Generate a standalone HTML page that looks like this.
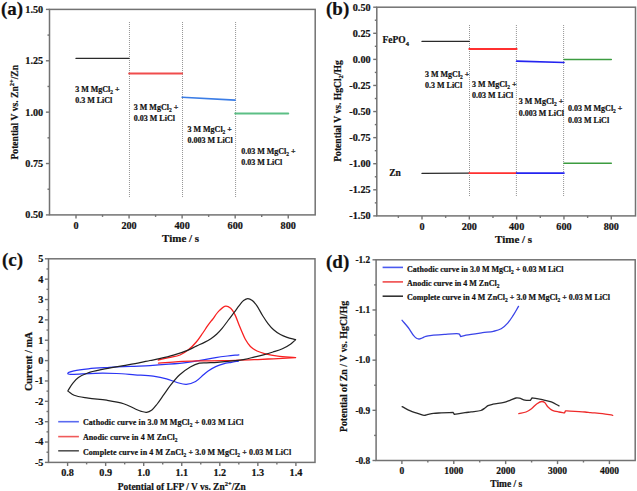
<!DOCTYPE html>
<html><head><meta charset="utf-8"><style>
html,body{margin:0;padding:0;background:#fff;width:637px;height:491px;overflow:hidden}
svg{display:block}
text{stroke:#111;stroke-width:0.2px}
</style></head><body>
<svg width="637" height="491" viewBox="0 0 637 491" font-family="Liberation Serif" font-weight="bold" fill="#111">
<rect width="637" height="491" fill="#fff"/>
<rect x="49.50" y="9.40" width="265.70" height="205.50" fill="none" stroke="#727272" stroke-width="1.5"/>
<line x1="76.00" y1="214.90" x2="76.00" y2="218.50" stroke="#727272" stroke-width="1.4" />
<text x="76.00" y="229.30" font-size="10.2" text-anchor="middle" >0</text>
<line x1="129.06" y1="214.90" x2="129.06" y2="218.50" stroke="#727272" stroke-width="1.4" />
<text x="129.06" y="229.30" font-size="10.2" text-anchor="middle" >200</text>
<line x1="182.12" y1="214.90" x2="182.12" y2="218.50" stroke="#727272" stroke-width="1.4" />
<text x="182.12" y="229.30" font-size="10.2" text-anchor="middle" >400</text>
<line x1="235.18" y1="214.90" x2="235.18" y2="218.50" stroke="#727272" stroke-width="1.4" />
<text x="235.18" y="229.30" font-size="10.2" text-anchor="middle" >600</text>
<line x1="288.24" y1="214.90" x2="288.24" y2="218.50" stroke="#727272" stroke-width="1.4" />
<text x="288.24" y="229.30" font-size="10.2" text-anchor="middle" >800</text>
<line x1="102.53" y1="214.90" x2="102.53" y2="216.90" stroke="#727272" stroke-width="1.4" />
<line x1="155.59" y1="214.90" x2="155.59" y2="216.90" stroke="#727272" stroke-width="1.4" />
<line x1="208.65" y1="214.90" x2="208.65" y2="216.90" stroke="#727272" stroke-width="1.4" />
<line x1="261.71" y1="214.90" x2="261.71" y2="216.90" stroke="#727272" stroke-width="1.4" />
<line x1="49.50" y1="214.90" x2="45.90" y2="214.90" stroke="#727272" stroke-width="1.4" />
<text x="43.20" y="218.30" font-size="10.2" text-anchor="end" >0.50</text>
<line x1="49.50" y1="163.53" x2="45.90" y2="163.53" stroke="#727272" stroke-width="1.4" />
<text x="43.20" y="166.93" font-size="10.2" text-anchor="end" >0.75</text>
<line x1="49.50" y1="112.15" x2="45.90" y2="112.15" stroke="#727272" stroke-width="1.4" />
<text x="43.20" y="115.55" font-size="10.2" text-anchor="end" >1.00</text>
<line x1="49.50" y1="60.78" x2="45.90" y2="60.78" stroke="#727272" stroke-width="1.4" />
<text x="43.20" y="64.18" font-size="10.2" text-anchor="end" >1.25</text>
<line x1="49.50" y1="9.40" x2="45.90" y2="9.40" stroke="#727272" stroke-width="1.4" />
<text x="43.20" y="12.80" font-size="10.2" text-anchor="end" >1.50</text>
<line x1="49.50" y1="189.21" x2="47.50" y2="189.21" stroke="#727272" stroke-width="1.4" />
<line x1="49.50" y1="137.84" x2="47.50" y2="137.84" stroke="#727272" stroke-width="1.4" />
<line x1="49.50" y1="86.46" x2="47.50" y2="86.46" stroke="#727272" stroke-width="1.4" />
<line x1="49.50" y1="35.09" x2="47.50" y2="35.09" stroke="#727272" stroke-width="1.4" />
<text x="180.60" y="242.00" font-size="11" text-anchor="middle" >Time / s</text>
<text transform="translate(18.3,112.2) rotate(-90)" font-size="9.6" text-anchor="middle">Potential V vs. Zn<tspan font-size="6.5" dy="-4">2+</tspan><tspan dy="4">/Zn</tspan></text>
<text x="1.00" y="14.50" font-size="19" text-anchor="start" >(a)</text>
<line x1="129.46" y1="22.00" x2="129.46" y2="197.70" stroke="#7a7a7a" stroke-width="0.8" stroke-dasharray="1,1"/>
<line x1="182.52" y1="22.00" x2="182.52" y2="197.70" stroke="#7a7a7a" stroke-width="0.8" stroke-dasharray="1,1"/>
<line x1="235.58" y1="22.00" x2="235.58" y2="197.70" stroke="#7a7a7a" stroke-width="0.8" stroke-dasharray="1,1"/>
<path d="M76.00,58.40 L129.06,58.40" fill="none" stroke="#2a2a2a" stroke-width="1.3" stroke-linejoin="round" stroke-linecap="round" />
<path d="M129.06,73.50 L182.12,73.50" fill="none" stroke="#f04c4c" stroke-width="1.8" stroke-linejoin="round" stroke-linecap="round" />
<path d="M182.12,97.30 L235.18,100.10" fill="none" stroke="#3b7de6" stroke-width="1.6" stroke-linejoin="round" stroke-linecap="round" />
<path d="M235.18,113.60 L288.24,113.60" fill="none" stroke="#5cbf85" stroke-width="2.0" stroke-linejoin="round" stroke-linecap="round" />
<text x="75.20" y="91.80" font-size="8">3 M MgCl<tspan font-size="5.5" dy="2">2</tspan><tspan dy="-2"> +</tspan></text>
<text x="75.20" y="102.80" font-size="8">0.3 M LiCl</text>
<text x="133.80" y="109.80" font-size="8">3 M MgCl<tspan font-size="5.5" dy="2">2</tspan><tspan dy="-2"> +</tspan></text>
<text x="133.80" y="120.80" font-size="8">0.03 M LiCl</text>
<text x="187.50" y="131.80" font-size="8">3 M MgCl<tspan font-size="5.5" dy="2">2</tspan><tspan dy="-2"> +</tspan></text>
<text x="187.50" y="142.80" font-size="8">0.003 M LiCl</text>
<text x="241.20" y="153.80" font-size="8">0.03 M MgCl<tspan font-size="5.5" dy="2">2</tspan><tspan dy="-2"> +</tspan></text>
<text x="241.20" y="165.40" font-size="8">0.03 M LiCl</text>
<rect x="376.80" y="7.20" width="258.70" height="208.70" fill="none" stroke="#727272" stroke-width="1.5"/>
<line x1="422.00" y1="215.90" x2="422.00" y2="219.50" stroke="#727272" stroke-width="1.4" />
<text x="422.00" y="229.60" font-size="10.2" text-anchor="middle" >0</text>
<line x1="469.32" y1="215.90" x2="469.32" y2="219.50" stroke="#727272" stroke-width="1.4" />
<text x="469.32" y="229.60" font-size="10.2" text-anchor="middle" >200</text>
<line x1="516.64" y1="215.90" x2="516.64" y2="219.50" stroke="#727272" stroke-width="1.4" />
<text x="516.64" y="229.60" font-size="10.2" text-anchor="middle" >400</text>
<line x1="563.96" y1="215.90" x2="563.96" y2="219.50" stroke="#727272" stroke-width="1.4" />
<text x="563.96" y="229.60" font-size="10.2" text-anchor="middle" >600</text>
<line x1="611.28" y1="215.90" x2="611.28" y2="219.50" stroke="#727272" stroke-width="1.4" />
<text x="611.28" y="229.60" font-size="10.2" text-anchor="middle" >800</text>
<line x1="398.34" y1="215.90" x2="398.34" y2="217.90" stroke="#727272" stroke-width="1.4" />
<line x1="445.66" y1="215.90" x2="445.66" y2="217.90" stroke="#727272" stroke-width="1.4" />
<line x1="492.98" y1="215.90" x2="492.98" y2="217.90" stroke="#727272" stroke-width="1.4" />
<line x1="540.30" y1="215.90" x2="540.30" y2="217.90" stroke="#727272" stroke-width="1.4" />
<line x1="587.62" y1="215.90" x2="587.62" y2="217.90" stroke="#727272" stroke-width="1.4" />
<line x1="376.80" y1="7.20" x2="373.20" y2="7.20" stroke="#727272" stroke-width="1.4" />
<text x="370.60" y="10.60" font-size="10.2" text-anchor="end" >0.50</text>
<line x1="376.80" y1="33.29" x2="373.20" y2="33.29" stroke="#727272" stroke-width="1.4" />
<text x="370.60" y="36.69" font-size="10.2" text-anchor="end" >0.25</text>
<line x1="376.80" y1="59.38" x2="373.20" y2="59.38" stroke="#727272" stroke-width="1.4" />
<text x="370.60" y="62.77" font-size="10.2" text-anchor="end" >0.00</text>
<line x1="376.80" y1="85.46" x2="373.20" y2="85.46" stroke="#727272" stroke-width="1.4" />
<text x="370.60" y="88.86" font-size="10.2" text-anchor="end" >-0.25</text>
<line x1="376.80" y1="111.55" x2="373.20" y2="111.55" stroke="#727272" stroke-width="1.4" />
<text x="370.60" y="114.95" font-size="10.2" text-anchor="end" >-0.50</text>
<line x1="376.80" y1="137.64" x2="373.20" y2="137.64" stroke="#727272" stroke-width="1.4" />
<text x="370.60" y="141.04" font-size="10.2" text-anchor="end" >-0.75</text>
<line x1="376.80" y1="163.72" x2="373.20" y2="163.72" stroke="#727272" stroke-width="1.4" />
<text x="370.60" y="167.12" font-size="10.2" text-anchor="end" >-1.00</text>
<line x1="376.80" y1="189.81" x2="373.20" y2="189.81" stroke="#727272" stroke-width="1.4" />
<text x="370.60" y="193.21" font-size="10.2" text-anchor="end" >-1.25</text>
<line x1="376.80" y1="215.90" x2="373.20" y2="215.90" stroke="#727272" stroke-width="1.4" />
<text x="370.60" y="219.30" font-size="10.2" text-anchor="end" >-1.50</text>
<line x1="376.80" y1="20.24" x2="374.80" y2="20.24" stroke="#727272" stroke-width="1.4" />
<line x1="376.80" y1="46.33" x2="374.80" y2="46.33" stroke="#727272" stroke-width="1.4" />
<line x1="376.80" y1="72.42" x2="374.80" y2="72.42" stroke="#727272" stroke-width="1.4" />
<line x1="376.80" y1="98.51" x2="374.80" y2="98.51" stroke="#727272" stroke-width="1.4" />
<line x1="376.80" y1="124.59" x2="374.80" y2="124.59" stroke="#727272" stroke-width="1.4" />
<line x1="376.80" y1="150.68" x2="374.80" y2="150.68" stroke="#727272" stroke-width="1.4" />
<line x1="376.80" y1="176.77" x2="374.80" y2="176.77" stroke="#727272" stroke-width="1.4" />
<line x1="376.80" y1="202.86" x2="374.80" y2="202.86" stroke="#727272" stroke-width="1.4" />
<text x="513.60" y="243.30" font-size="11" text-anchor="middle" >Time / s</text>
<text transform="translate(340.6,111) rotate(-90)" font-size="9.6" text-anchor="middle">Potential V vs. HgCl<tspan font-size="6.5" dy="2.5">2</tspan><tspan dy="-2.5">/Hg</tspan></text>
<text x="326.00" y="14.80" font-size="19" text-anchor="start" >(b)</text>
<line x1="469.50" y1="25.00" x2="469.50" y2="196.60" stroke="#7a7a7a" stroke-width="0.8" stroke-dasharray="1,1"/>
<line x1="516.40" y1="25.00" x2="516.40" y2="196.60" stroke="#7a7a7a" stroke-width="0.8" stroke-dasharray="1,1"/>
<line x1="563.60" y1="25.00" x2="563.60" y2="196.60" stroke="#7a7a7a" stroke-width="0.8" stroke-dasharray="1,1"/>
<path d="M422.00,41.40 L469.32,41.40" fill="none" stroke="#2a2a2a" stroke-width="1.3" stroke-linejoin="round" stroke-linecap="round" />
<path d="M469.32,49.00 L516.64,49.00" fill="none" stroke="#ff3030" stroke-width="2.0" stroke-linejoin="round" stroke-linecap="round" />
<path d="M516.64,61.20 L563.96,62.50" fill="none" stroke="#2424f0" stroke-width="1.7" stroke-linejoin="round" stroke-linecap="round" />
<path d="M563.96,59.50 L611.28,59.50" fill="none" stroke="#3c9c40" stroke-width="1.6" stroke-linejoin="round" stroke-linecap="round" />
<path d="M422.00,173.40 L469.32,173.20" fill="none" stroke="#2a2a2a" stroke-width="1.3" stroke-linejoin="round" stroke-linecap="round" />
<path d="M469.32,173.10 L516.64,173.10" fill="none" stroke="#ff3030" stroke-width="1.8" stroke-linejoin="round" stroke-linecap="round" />
<path d="M516.64,173.10 L563.96,173.10" fill="none" stroke="#2424f0" stroke-width="1.7" stroke-linejoin="round" stroke-linecap="round" />
<path d="M563.96,163.30 L611.28,163.30" fill="none" stroke="#3c9c40" stroke-width="1.6" stroke-linejoin="round" stroke-linecap="round" />
<text x="382.5" y="43" font-size="9.5">FePO<tspan font-size="6.5" dy="2.5">4</tspan></text>
<text x="389.20" y="175.90" font-size="9.5" text-anchor="start" >Zn</text>
<text x="425.00" y="76.50" font-size="8">3 M MgCl<tspan font-size="5.5" dy="2">2</tspan><tspan dy="-2"> +</tspan></text>
<text x="425.00" y="87.70" font-size="8">0.3 M LiCl</text>
<text x="472.10" y="87.00" font-size="8">3 M MgCl<tspan font-size="5.5" dy="2">2</tspan><tspan dy="-2"> +</tspan></text>
<text x="472.10" y="98.20" font-size="8">0.03 M LiCl</text>
<text x="518.80" y="104.10" font-size="8">3 M MgCl<tspan font-size="5.5" dy="2">2</tspan><tspan dy="-2"> +</tspan></text>
<text x="518.80" y="116.00" font-size="8">0.003 M LiCl</text>
<text x="568.00" y="111.30" font-size="8">0.03 M MgCl<tspan font-size="5.5" dy="2">2</tspan><tspan dy="-2"> +</tspan></text>
<text x="568.00" y="123.10" font-size="8">0.03 M LiCl</text>
<rect x="48.50" y="258.80" width="266.50" height="203.60" fill="none" stroke="#727272" stroke-width="1.5"/>
<line x1="67.60" y1="462.40" x2="67.60" y2="466.00" stroke="#727272" stroke-width="1.4" />
<text x="67.60" y="476.30" font-size="10.2" text-anchor="middle" >0.8</text>
<line x1="105.65" y1="462.40" x2="105.65" y2="466.00" stroke="#727272" stroke-width="1.4" />
<text x="105.65" y="476.30" font-size="10.2" text-anchor="middle" >0.9</text>
<line x1="143.70" y1="462.40" x2="143.70" y2="466.00" stroke="#727272" stroke-width="1.4" />
<text x="143.70" y="476.30" font-size="10.2" text-anchor="middle" >1.0</text>
<line x1="181.75" y1="462.40" x2="181.75" y2="466.00" stroke="#727272" stroke-width="1.4" />
<text x="181.75" y="476.30" font-size="10.2" text-anchor="middle" >1.1</text>
<line x1="219.80" y1="462.40" x2="219.80" y2="466.00" stroke="#727272" stroke-width="1.4" />
<text x="219.80" y="476.30" font-size="10.2" text-anchor="middle" >1.2</text>
<line x1="257.85" y1="462.40" x2="257.85" y2="466.00" stroke="#727272" stroke-width="1.4" />
<text x="257.85" y="476.30" font-size="10.2" text-anchor="middle" >1.3</text>
<line x1="295.90" y1="462.40" x2="295.90" y2="466.00" stroke="#727272" stroke-width="1.4" />
<text x="295.90" y="476.30" font-size="10.2" text-anchor="middle" >1.4</text>
<line x1="86.62" y1="462.40" x2="86.62" y2="464.40" stroke="#727272" stroke-width="1.4" />
<line x1="124.67" y1="462.40" x2="124.67" y2="464.40" stroke="#727272" stroke-width="1.4" />
<line x1="162.72" y1="462.40" x2="162.72" y2="464.40" stroke="#727272" stroke-width="1.4" />
<line x1="200.77" y1="462.40" x2="200.77" y2="464.40" stroke="#727272" stroke-width="1.4" />
<line x1="238.82" y1="462.40" x2="238.82" y2="464.40" stroke="#727272" stroke-width="1.4" />
<line x1="276.88" y1="462.40" x2="276.88" y2="464.40" stroke="#727272" stroke-width="1.4" />
<line x1="48.50" y1="462.40" x2="44.90" y2="462.40" stroke="#727272" stroke-width="1.4" />
<text x="43.40" y="465.80" font-size="10.2" text-anchor="end" >-5</text>
<line x1="48.50" y1="442.04" x2="44.90" y2="442.04" stroke="#727272" stroke-width="1.4" />
<text x="43.40" y="445.44" font-size="10.2" text-anchor="end" >-4</text>
<line x1="48.50" y1="421.68" x2="44.90" y2="421.68" stroke="#727272" stroke-width="1.4" />
<text x="43.40" y="425.08" font-size="10.2" text-anchor="end" >-3</text>
<line x1="48.50" y1="401.32" x2="44.90" y2="401.32" stroke="#727272" stroke-width="1.4" />
<text x="43.40" y="404.72" font-size="10.2" text-anchor="end" >-2</text>
<line x1="48.50" y1="380.96" x2="44.90" y2="380.96" stroke="#727272" stroke-width="1.4" />
<text x="43.40" y="384.36" font-size="10.2" text-anchor="end" >-1</text>
<line x1="48.50" y1="360.60" x2="44.90" y2="360.60" stroke="#727272" stroke-width="1.4" />
<text x="43.40" y="364.00" font-size="10.2" text-anchor="end" >0</text>
<line x1="48.50" y1="340.24" x2="44.90" y2="340.24" stroke="#727272" stroke-width="1.4" />
<text x="43.40" y="343.64" font-size="10.2" text-anchor="end" >1</text>
<line x1="48.50" y1="319.88" x2="44.90" y2="319.88" stroke="#727272" stroke-width="1.4" />
<text x="43.40" y="323.28" font-size="10.2" text-anchor="end" >2</text>
<line x1="48.50" y1="299.52" x2="44.90" y2="299.52" stroke="#727272" stroke-width="1.4" />
<text x="43.40" y="302.92" font-size="10.2" text-anchor="end" >3</text>
<line x1="48.50" y1="279.16" x2="44.90" y2="279.16" stroke="#727272" stroke-width="1.4" />
<text x="43.40" y="282.56" font-size="10.2" text-anchor="end" >4</text>
<line x1="48.50" y1="258.80" x2="44.90" y2="258.80" stroke="#727272" stroke-width="1.4" />
<text x="43.40" y="262.20" font-size="10.2" text-anchor="end" >5</text>
<line x1="48.50" y1="452.22" x2="46.50" y2="452.22" stroke="#727272" stroke-width="1.4" />
<line x1="48.50" y1="431.86" x2="46.50" y2="431.86" stroke="#727272" stroke-width="1.4" />
<line x1="48.50" y1="411.50" x2="46.50" y2="411.50" stroke="#727272" stroke-width="1.4" />
<line x1="48.50" y1="391.14" x2="46.50" y2="391.14" stroke="#727272" stroke-width="1.4" />
<line x1="48.50" y1="370.78" x2="46.50" y2="370.78" stroke="#727272" stroke-width="1.4" />
<line x1="48.50" y1="350.42" x2="46.50" y2="350.42" stroke="#727272" stroke-width="1.4" />
<line x1="48.50" y1="330.06" x2="46.50" y2="330.06" stroke="#727272" stroke-width="1.4" />
<line x1="48.50" y1="309.70" x2="46.50" y2="309.70" stroke="#727272" stroke-width="1.4" />
<line x1="48.50" y1="289.34" x2="46.50" y2="289.34" stroke="#727272" stroke-width="1.4" />
<line x1="48.50" y1="268.98" x2="46.50" y2="268.98" stroke="#727272" stroke-width="1.4" />
<text x="181.80" y="489.60" font-size="9.45" text-anchor="middle" >Potential of LFP / V vs. Zn<tspan font-size="6.5" dy="-4">2+</tspan><tspan dy="4">/Zn</tspan></text>
<text transform="translate(31.7,361.4) rotate(-90)" font-size="10.2" text-anchor="middle">Current / mA</text>
<text x="2.00" y="266.20" font-size="19" text-anchor="start" >(c)</text>
<path d="M238.90,354.80 C235.10,355.20 231.33,355.54 227.50,356.00 C223.60,356.47 219.79,356.94 215.70,357.60 C211.25,358.32 206.46,359.42 201.80,360.20 C197.12,360.99 192.75,361.67 187.70,362.30 C181.87,363.03 175.10,363.65 168.80,364.20 C162.53,364.75 156.32,365.25 150.00,365.60 C143.59,365.95 137.21,366.01 130.60,366.30 C123.69,366.60 116.46,366.98 109.40,367.40 C102.36,367.82 94.63,368.15 88.30,368.80 C83.09,369.34 77.72,369.97 74.10,370.80 C71.78,371.33 69.43,371.85 68.50,372.60 C68.05,372.96 67.68,373.52 67.80,373.80 C67.96,374.16 69.15,374.20 70.00,374.30 C71.15,374.43 72.20,374.34 74.10,374.30 C78.42,374.20 88.23,373.43 95.30,373.30 C102.36,373.17 109.69,373.23 116.50,373.50 C122.85,373.75 128.78,374.35 134.90,374.80 C141.01,375.25 147.61,375.44 153.20,376.20 C158.01,376.85 162.36,377.68 166.50,378.80 C170.27,379.82 173.66,381.57 177.10,382.50 C180.24,383.35 183.24,384.45 186.30,384.30 C189.41,384.15 192.77,383.04 195.60,381.50 C198.52,379.91 201.26,376.69 203.50,374.80 C205.15,373.41 206.09,372.40 207.80,371.20 C209.98,369.67 213.02,367.85 215.70,366.60 C218.25,365.41 220.86,364.52 223.50,363.80 C226.10,363.09 228.83,362.76 231.40,362.30 C233.83,361.86 236.13,361.50 238.50,361.10" fill="none" stroke="#2a34f4" stroke-width="1.25" stroke-linejoin="round" stroke-linecap="round" />
<path d="M158.30,360.00 C161.80,359.20 165.24,358.42 168.80,357.60 C172.47,356.75 176.66,356.36 180.00,355.00 C183.03,353.77 185.51,352.12 188.10,350.10 C190.96,347.87 193.83,344.88 196.30,342.00 C198.72,339.17 200.81,335.86 202.80,333.00 C204.57,330.46 206.05,328.01 207.70,325.70 C209.25,323.53 210.66,321.76 212.40,319.50 C214.51,316.75 217.03,312.74 219.50,310.40 C221.50,308.51 223.69,306.29 225.70,306.10 C227.41,305.94 229.26,307.09 230.70,308.30 C232.37,309.70 233.55,312.03 234.80,314.40 C236.33,317.30 237.62,321.48 238.90,324.60 C240.00,327.27 240.93,329.55 242.00,332.00 C243.07,334.45 243.95,336.94 245.30,339.30 C246.72,341.78 248.39,344.52 250.40,346.50 C252.32,348.38 254.58,349.80 257.00,351.00 C259.55,352.26 262.30,352.99 265.40,353.80 C269.08,354.77 273.20,355.59 277.70,356.20 C283.09,356.93 289.63,357.13 295.60,357.60 C291.20,357.87 286.88,358.17 282.40,358.40 C277.75,358.64 272.92,358.78 268.20,359.00 C263.49,359.22 258.80,359.50 254.10,359.70 C249.40,359.90 244.88,360.04 240.00,360.20 C234.72,360.37 229.64,360.58 223.50,360.70 C215.73,360.85 205.17,360.72 197.10,360.90 C190.27,361.05 184.56,361.22 178.20,361.60 C171.70,361.98 165.07,362.67 158.50,363.20" fill="none" stroke="#f82020" stroke-width="1.3" stroke-linejoin="round" stroke-linecap="round" />
<path d="M295.60,339.70 C294.00,341.10 292.70,342.55 290.80,343.90 C288.46,345.57 285.34,347.36 282.40,348.70 C279.41,350.06 276.15,350.98 273.00,352.00 C269.85,353.01 266.67,353.95 263.50,354.80 C260.37,355.64 257.24,356.35 254.10,357.10 C250.97,357.85 247.85,358.70 244.70,359.30 C241.58,359.90 238.95,360.27 235.30,360.70 C230.27,361.30 222.54,361.95 217.30,362.30 C213.25,362.57 209.71,362.63 206.50,362.80 C203.91,362.93 201.95,362.65 199.50,363.20 C196.59,363.85 193.36,365.18 190.30,366.90 C186.76,368.89 182.97,371.78 179.70,374.80 C176.32,377.92 173.16,381.91 170.40,385.40 C167.92,388.54 166.00,391.60 163.80,394.70 C161.60,397.80 159.36,401.30 157.20,404.00 C155.40,406.25 153.83,408.49 151.90,409.90 C150.25,411.11 148.40,412.07 146.60,412.30 C144.87,412.52 143.12,411.93 141.30,411.40 C139.23,410.80 137.33,409.75 134.90,408.70 C131.66,407.30 127.83,405.05 123.60,403.70 C118.59,402.09 112.39,401.13 106.60,400.20 C100.63,399.25 94.00,398.99 88.30,398.10 C83.25,397.31 77.77,396.84 74.10,395.30 C71.44,394.18 69.90,392.43 67.80,391.00 C69.43,388.43 70.87,385.59 72.70,383.30 C74.42,381.15 76.08,379.27 78.40,377.60 C81.12,375.65 84.62,374.02 88.30,372.70 C92.51,371.19 97.21,370.47 102.40,369.40 C108.73,368.09 116.99,366.80 123.60,365.60 C129.42,364.55 135.21,363.54 140.00,362.60 C143.75,361.86 146.72,361.16 150.00,360.50 C153.18,359.86 155.96,359.46 159.40,358.70 C163.64,357.77 168.79,356.60 173.50,355.20 C178.36,353.75 183.97,351.82 188.10,350.10 C191.27,348.78 193.57,347.39 196.30,346.10 C199.00,344.82 201.88,343.69 204.40,342.40 C206.71,341.22 208.85,340.07 210.90,338.70 C212.91,337.36 214.77,335.98 216.60,334.30 C218.58,332.48 220.45,330.32 222.30,328.10 C224.26,325.74 226.09,323.03 228.00,320.50 C229.92,317.96 231.78,315.58 233.80,312.90 C236.05,309.92 239.04,305.59 240.90,303.40 C241.97,302.15 242.52,301.37 243.60,300.60 C244.78,299.77 246.37,298.72 247.80,298.70 C249.27,298.68 250.90,299.60 252.30,300.60 C253.95,301.78 255.31,303.65 256.80,305.70 C258.69,308.31 260.49,312.16 262.40,315.20 C264.23,318.11 266.04,321.08 268.00,323.60 C269.79,325.90 271.53,327.97 273.60,329.80 C275.67,331.63 278.07,333.31 280.40,334.60 C282.58,335.80 284.71,336.58 287.10,337.40 C289.74,338.30 292.77,338.93 295.60,339.70" fill="none" stroke="#222" stroke-width="1.2" stroke-linejoin="round" stroke-linecap="round" />
<line x1="58.20" y1="421.70" x2="78.90" y2="421.70" stroke="#5a6af0" stroke-width="1.6" />
<line x1="58.20" y1="436.60" x2="78.90" y2="436.60" stroke="#f05a5a" stroke-width="1.6" />
<line x1="58.20" y1="450.80" x2="78.90" y2="450.80" stroke="#555" stroke-width="1.6" />
<text x="82.90" y="425.40" font-size="8" text-anchor="start" letter-spacing="0.1">Cathodic curve in 3.0 M MgCl<tspan font-size="5.5" dy="2">2</tspan><tspan dy="-2"> + 0.03 M LiCl</tspan></text>
<text x="82.90" y="440.30" font-size="8" text-anchor="start" letter-spacing="0.1">Anodic curve in 4 M ZnCl<tspan font-size="5.5" dy="2">2</tspan><tspan dy="-2"></tspan></text>
<text x="82.90" y="454.80" font-size="8" text-anchor="start" letter-spacing="0.1">Complete curve in 4 M ZnCl<tspan font-size="5.5" dy="2">2</tspan><tspan dy="-2"> + 3.0 M MgCl<tspan font-size="5.5" dy="2">2</tspan><tspan dy="-2"> + 0.03 M LiCl</tspan></tspan></text>
<rect x="376.10" y="259.80" width="259.10" height="200.70" fill="none" stroke="#727272" stroke-width="1.5"/>
<line x1="401.90" y1="460.50" x2="401.90" y2="464.10" stroke="#727272" stroke-width="1.4" />
<text x="401.90" y="473.80" font-size="9.5" text-anchor="middle" >0</text>
<line x1="453.78" y1="460.50" x2="453.78" y2="464.10" stroke="#727272" stroke-width="1.4" />
<text x="453.78" y="473.80" font-size="9.5" text-anchor="middle" >1000</text>
<line x1="505.66" y1="460.50" x2="505.66" y2="464.10" stroke="#727272" stroke-width="1.4" />
<text x="505.66" y="473.80" font-size="9.5" text-anchor="middle" >2000</text>
<line x1="557.54" y1="460.50" x2="557.54" y2="464.10" stroke="#727272" stroke-width="1.4" />
<text x="557.54" y="473.80" font-size="9.5" text-anchor="middle" >3000</text>
<line x1="609.42" y1="460.50" x2="609.42" y2="464.10" stroke="#727272" stroke-width="1.4" />
<text x="609.42" y="473.80" font-size="9.5" text-anchor="middle" >4000</text>
<line x1="427.84" y1="460.50" x2="427.84" y2="462.50" stroke="#727272" stroke-width="1.4" />
<line x1="479.72" y1="460.50" x2="479.72" y2="462.50" stroke="#727272" stroke-width="1.4" />
<line x1="531.60" y1="460.50" x2="531.60" y2="462.50" stroke="#727272" stroke-width="1.4" />
<line x1="583.48" y1="460.50" x2="583.48" y2="462.50" stroke="#727272" stroke-width="1.4" />
<line x1="376.10" y1="259.80" x2="372.50" y2="259.80" stroke="#727272" stroke-width="1.4" />
<text x="370.10" y="263.00" font-size="9.3" text-anchor="end" >-1.2</text>
<line x1="376.10" y1="309.98" x2="372.50" y2="309.98" stroke="#727272" stroke-width="1.4" />
<text x="370.10" y="313.18" font-size="9.3" text-anchor="end" >-1.1</text>
<line x1="376.10" y1="360.15" x2="372.50" y2="360.15" stroke="#727272" stroke-width="1.4" />
<text x="370.10" y="363.35" font-size="9.3" text-anchor="end" >-1.0</text>
<line x1="376.10" y1="410.33" x2="372.50" y2="410.33" stroke="#727272" stroke-width="1.4" />
<text x="370.10" y="413.53" font-size="9.3" text-anchor="end" >-0.9</text>
<line x1="376.10" y1="460.50" x2="372.50" y2="460.50" stroke="#727272" stroke-width="1.4" />
<text x="370.10" y="463.70" font-size="9.3" text-anchor="end" >-0.8</text>
<line x1="376.10" y1="284.89" x2="374.10" y2="284.89" stroke="#727272" stroke-width="1.4" />
<line x1="376.10" y1="335.06" x2="374.10" y2="335.06" stroke="#727272" stroke-width="1.4" />
<line x1="376.10" y1="385.24" x2="374.10" y2="385.24" stroke="#727272" stroke-width="1.4" />
<line x1="376.10" y1="435.41" x2="374.10" y2="435.41" stroke="#727272" stroke-width="1.4" />
<text x="506.30" y="486.90" font-size="9.5" text-anchor="middle" >Time / s</text>
<text transform="translate(347,366.5) rotate(-90)" font-size="9.85" text-anchor="middle">Potential of Zn / V vs. HgCl/Hg</text>
<text x="326.00" y="268.00" font-size="19" text-anchor="start" >(d)</text>
<path d="M402.10,320.30 C404.13,322.70 406.28,324.98 408.20,327.50 C410.15,330.07 412.08,333.68 413.70,335.60 C414.72,336.81 415.52,337.74 416.50,338.30 C417.30,338.76 418.13,339.02 419.00,339.00 C419.96,338.98 420.95,338.41 422.00,338.00 C423.20,337.53 424.28,336.74 425.80,336.30 C427.88,335.70 430.70,335.51 433.50,335.20 C436.84,334.83 440.60,334.53 444.50,334.30 C448.93,334.04 456.82,333.35 458.70,333.80 C459.21,333.92 459.30,334.13 459.60,334.30 C459.93,335.07 460.27,335.83 460.60,336.60 C462.40,336.13 463.69,335.67 466.00,335.20 C469.99,334.38 477.55,333.39 482.50,332.70 C486.53,332.14 490.19,332.04 493.50,331.30 C496.33,330.67 498.86,330.13 501.20,328.80 C503.61,327.43 505.74,325.27 507.70,323.10 C509.75,320.83 511.44,318.11 513.20,315.40 C515.05,312.56 516.73,309.40 518.50,306.40" fill="none" stroke="#3a44e8" stroke-width="1.3" stroke-linejoin="round" stroke-linecap="round" />
<path d="M402.10,406.70 C404.87,408.10 407.49,409.67 410.40,410.90 C413.44,412.19 417.46,413.42 420.00,414.20 C421.64,414.70 422.75,415.28 424.10,415.30 C425.41,415.32 426.59,414.70 428.00,414.40 C429.67,414.04 431.50,413.55 433.50,413.30 C435.84,413.01 438.35,413.02 441.20,412.90 C444.76,412.75 449.20,412.63 453.20,412.50 C453.57,413.13 453.93,413.77 454.30,414.40 C457.87,413.83 461.94,413.15 465.00,412.70 C467.28,412.37 468.75,412.21 471.00,411.90 C473.89,411.50 478.38,411.40 480.90,410.50 C482.64,409.88 483.76,408.85 485.00,408.00 C486.10,407.25 486.81,406.31 488.00,405.70 C489.40,404.98 490.99,404.66 493.00,404.20 C495.94,403.52 500.91,403.19 504.00,402.40 C506.33,401.81 508.01,401.03 510.00,400.30 C512.01,399.56 514.26,398.27 516.00,398.00 C517.27,397.80 518.15,397.95 519.40,398.20 C521.03,398.52 523.04,399.74 524.90,400.10 C526.71,400.45 528.57,400.30 530.40,400.40 C530.93,399.57 531.47,398.73 532.00,397.90 C535.50,398.50 539.17,399.00 542.50,399.70 C545.58,400.35 548.52,400.85 551.30,401.90 C554.02,402.93 556.43,404.57 559.00,405.90" fill="none" stroke="#2a2a2a" stroke-width="1.3" stroke-linejoin="round" stroke-linecap="round" />
<path d="M518.80,413.60 C521.20,413.07 523.82,412.87 526.00,412.00 C528.03,411.19 529.73,410.02 531.50,408.70 C533.41,407.28 535.12,404.93 537.00,403.70 C538.60,402.65 540.49,401.53 541.90,401.50 C542.96,401.47 543.82,401.93 544.70,402.60 C545.89,403.51 546.72,405.72 548.00,407.00 C549.28,408.28 550.69,409.48 552.40,410.30 C554.30,411.21 556.89,411.56 559.00,412.00 C560.91,412.40 562.67,412.60 564.50,412.90 C564.83,412.23 565.17,411.57 565.50,410.90 C567.00,410.97 568.06,411.00 570.00,411.10 C573.54,411.28 581.19,411.69 585.00,412.00 C587.35,412.19 588.46,412.38 590.70,412.60 C593.92,412.92 598.72,413.23 602.50,413.70 C606.03,414.14 609.30,414.77 612.70,415.30" fill="none" stroke="#ee2a2a" stroke-width="1.3" stroke-linejoin="round" stroke-linecap="round" />
<line x1="382.60" y1="267.40" x2="403.00" y2="267.40" stroke="#4a5af0" stroke-width="1.6" />
<line x1="382.60" y1="281.90" x2="403.00" y2="281.90" stroke="#f04a4a" stroke-width="1.6" />
<line x1="382.60" y1="296.20" x2="403.00" y2="296.20" stroke="#333" stroke-width="1.6" />
<text x="407.10" y="271.90" font-size="8" text-anchor="start" >Cathodic curve in 3.0 M MgCl<tspan font-size="5.5" dy="2">2</tspan><tspan dy="-2"> + 0.03 M LiCl</tspan></text>
<text x="407.10" y="285.90" font-size="8" text-anchor="start" >Anodic curve in 4 M ZnCl<tspan font-size="5.5" dy="2">2</tspan><tspan dy="-2"></tspan></text>
<text x="407.10" y="300.10" font-size="8" text-anchor="start" >Complete curve in 4 M ZnCl<tspan font-size="5.5" dy="2">2</tspan><tspan dy="-2"> + 3.0 M MgCl<tspan font-size="5.5" dy="2">2</tspan><tspan dy="-2"> + 0.03 M LiCl</tspan></tspan></text>
</svg></body></html>
